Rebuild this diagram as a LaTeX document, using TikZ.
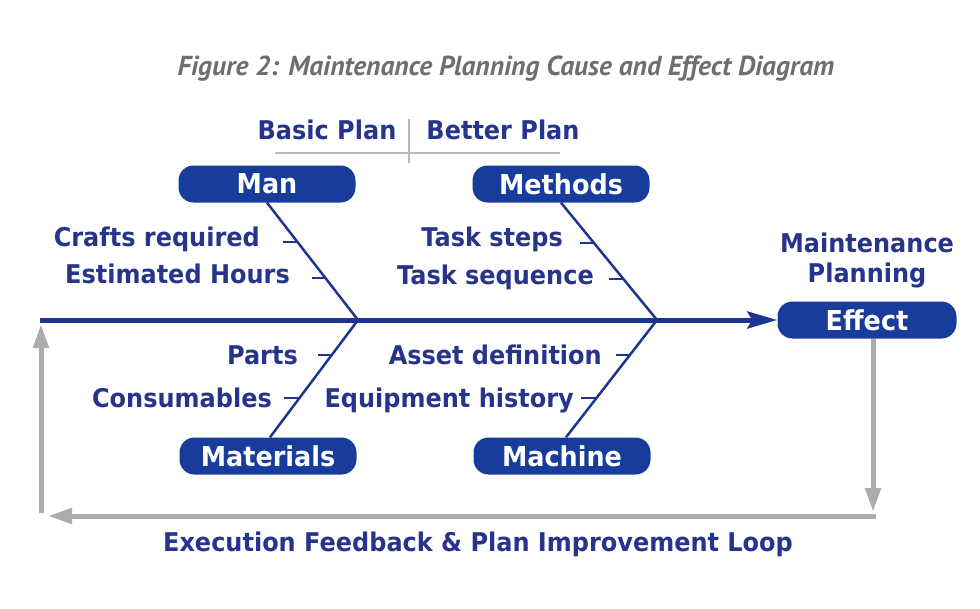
\documentclass[tikz,border=0pt]{standalone}
\usepackage{fontspec}
\setmainfont{DejaVu Sans}[FakeStretch=0.93]
\newfontfamily\titlefont{PT Sans}
\usetikzlibrary{arrows.meta,calc}
\definecolor{navy}{RGB}{30,52,145}
\definecolor{boxblue}{RGB}{24,60,155}
\definecolor{txtblue}{RGB}{38,52,140}
\definecolor{loopgray}{RGB}{172,172,175}
\definecolor{divgray}{RGB}{180,184,196}
\definecolor{titlegray}{RGB}{110,110,112}
\begin{document}
\begin{tikzpicture}[x=1pt,y=-1pt,
  pill/.style={fill=boxblue, rounded corners=15pt, minimum width=177pt, minimum height=37pt,
    text=white, font=\fontsize{27.4}{31}\selectfont\bfseries, inner sep=0pt},
  lbl/.style={text=txtblue, font=\fontsize{25.8}{30}\selectfont\bfseries, anchor=base east, inner sep=0pt},
  hdr/.style={text=txtblue, font=\fontsize{25.8}{30}\selectfont\bfseries, anchor=base, inner sep=0pt},
  bone/.style={draw=navy, line width=2.5pt},
  spine/.style={draw=navy, line width=5pt, -{Stealth[length=30pt,width=17pt,inset=5pt]}},
  ticks/.style={draw=navy, line width=2pt},
  loop/.style={draw=loopgray, line width=5pt, -{Triangle[length=24pt,width=15pt]}},
  divider/.style={draw=divgray, line width=2pt},
]
\useasboundingbox (0,0) rectangle (980,608);
% title
\node[text=titlegray, font=\titlefont\fontsize{27.5}{31}\selectfont\bfseries\itshape, anchor=base, inner sep=0pt]
  (title) at (506,75) {Figure 2: Maintenance Planning Cause and Effect Diagram};
% header
\node[hdr] (basic) at (327,139) {Basic Plan};
\node[hdr] (better) at (503,139) {Better Plan};
\coordinate (dv1) at (409,119);
\coordinate (dv2) at (409,163);
\coordinate (dh1) at (275,153);
\coordinate (dh2) at (560,153);
\draw[divider] (dv1) -- (dv2);
\draw[divider] (dh1) -- (dh2);
% category boxes
\node[pill] (man) at (267,184) {Man};
\node[pill] (methods) at (561,184) {Methods};
\node[pill] (materials) at (268,456) {Materials};
\node[pill] (machine) at (562,456) {Machine};
\node[pill, minimum width=179pt] (effect) at (867,320) {Effect};
\node[hdr] (maint) at (867,252) {Maintenance};
\node[hdr] (plan) at (867,282) {Planning};
% spine
\coordinate (s0) at (40,320);
\coordinate (j1) at (358,320);
\coordinate (j2) at (657,320);
\draw[spine] (s0) -- (effect.west);
% bones
\draw[bone] (man.south) -- (j1) coordinate[pos=0.333] (b1) coordinate[pos=0.64] (b2);
\draw[bone] (methods.south) -- (j2) coordinate[pos=0.34] (b3) coordinate[pos=0.65] (b4);
\draw[bone] (j1) -- ($(materials.north)+(2,0)$) coordinate[pos=0.30] (b5) coordinate[pos=0.667] (b6);
\draw[bone] (j2) -- ($(machine.north)+(4,0)$) coordinate[pos=0.30] (b7) coordinate[pos=0.667] (b8);
% ticks
\draw[ticks] (b1) -- ++(-14,0);
\draw[ticks] (b2) -- ++(-13,0);
\draw[ticks] (b3) -- ++(-14,0);
\draw[ticks] (b4) -- ++(-14,0);
\draw[ticks] (b5) -- ++(-14,0);
\draw[ticks] (b6) -- ++(-15,0);
\draw[ticks] (b7) -- ++(-14,0);
\draw[ticks] (b8) -- ++(-15,0);
% labels
\node[lbl] (l1) at (260,246) {Crafts required};
\node[lbl] (l2) at (290,283) {Estimated Hours};
\node[lbl] (l3) at (563,246) {Task steps};
\node[lbl] (l4) at (594,284) {Task sequence};
\node[lbl] (l5) at (298,364) {Parts};
\node[lbl] (l6) at (272,407) {Consumables};
\node[lbl] (l7) at (602,364) {Asset definition};
\node[lbl] (l8) at (574,407) {Equipment history};
% feedback loop
\coordinate (c1) at (873,512);
\coordinate (c2) at (875.5,516);
\coordinate (c3) at (48,516);
\coordinate (c4) at (41,513);
\coordinate (c5) at (41,324);
\draw[loop] (effect.south -| c1) -- (c1);
\draw[loop] (c2) -- (c3);
\draw[loop] (c4) -- (c5);
\node[hdr] (loopl) at (478,551) {Execution Feedback \& Plan Improvement Loop};
\end{tikzpicture}
\end{document}
